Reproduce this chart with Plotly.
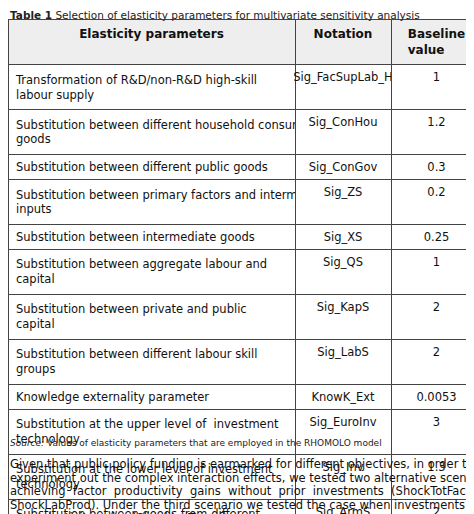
import plotly.graph_objects as go

# --- Table data ---
header = ["<b>Elasticity parameters</b>", "<b>Notation</b>", "<b>Baseline value</b>"]
parameters = [
    "Transformation of R&D/non-R&D high-skill labour supply",
    "Substitution between different household consumption<br>goods",
    "Substitution between different public goods",
    "Substitution between primary factors and intermediate<br>inputs",
    "Substitution between intermediate goods",
    "Substitution between aggregate labour and capital",
    "Substitution between private and public capital",
    "Substitution between different labour skill groups",
    "Knowledge externality parameter",
    "Substitution at the upper level of  investment technology",
    "Substitution at the lower level of investment technology",
    "Substitution between goods from different regions",
    "Wage curve elasticity",
    "Transformation of EU capital between regional markets",
    "Substitution between goods in R&D consumption",
]
notations = [
    "Sig_FacSupLab_H", "Sig_ConHou", "Sig_ConGov", "Sig_ZS", "Sig_XS", "Sig_QS",
    "Sig_KapS", "Sig_LabS", "KnowK_Ext", "Sig_EuroInv", "Sig_Inv", "Sig_ArmS",
    "WgeCurveElast", "Sig_EuroKap", "Sig_Arm_RnD",
]
baseline = ["1", "1.2", "0.3", "0.2", "0.25", "1", "2", "2", "0.0053", "3", "1.3", "2",
            "0.01", "3", "3"]

title = "<b>Table 1</b> Selection of elasticity parameters for multivariate sensitivity analysis"
source = "<i>Source:</i> Values of elasticity parameters that are employed in the RHOMOLO model"
paragraph = [
    "Given that public policy funding is earmarked for different objectives, in order to clear the",
    "experiment out the complex interaction effects, we tested two alternative scenarios for",
    "achieving  factor  productivity  gains  without  prior  investments  (ShockTotFacProd  and",
    "ShockLabProd). Under the third scenario we tested the case when investments were not aimed",
    "at productivity gains (ShockIncTransf).",
    "The scenario perturbations for the MSA are listed in Table 2.",
]

W, H = 474, 514
fig = go.Figure(go.Table(
    columnwidth=[287, 96, 91],
    header=dict(values=header, fill_color="#eeeeee", line_color="#444444",
                align="center", height=34,
                font=dict(family="DejaVu Sans", size=12, color="#111111")),
    cells=dict(values=[parameters, notations, baseline], fill_color="white",
               line_color="#444444", align=["left", "center", "center"], height=25,
               font=dict(family="DejaVu Sans", size=11.5, color="#111111")),
    domain=dict(x=[0, 1], y=[0, 1 - 11 / H]),
))

fig.add_annotation(text=title, x=0, y=1 + 1 / H, xref="paper", yref="paper",
                   xanchor="left", yanchor="top", showarrow=False,
                   font=dict(family="DejaVu Sans", size=10.5, color="#222222"))
fig.add_annotation(text=source, x=0, y=1 - 428 / H, xref="paper", yref="paper",
                   xanchor="left", yanchor="top", showarrow=False,
                   font=dict(family="DejaVu Sans", size=9, color="#222222"))
for k, line in enumerate(paragraph):
    y0 = 447 + k * 13.5 + (5 if k == 5 else 0)
    fig.add_annotation(text=line, x=0, y=1 - y0 / H, xref="paper", yref="paper",
                       xanchor="left", yanchor="top", showarrow=False,
                       font=dict(family="DejaVu Sans", size=11.5, color="#111111"))

fig.update_layout(width=W, height=H, margin=dict(l=0, r=0, t=0, b=0),
                  paper_bgcolor="white")
fig.write_html("out.html")
